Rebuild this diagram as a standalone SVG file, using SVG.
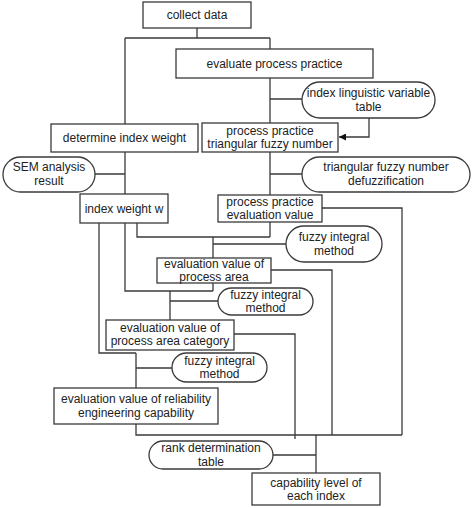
<svg xmlns="http://www.w3.org/2000/svg" width="474" height="508" viewBox="0 0 474 508">
<style>
.b{fill:#fff;stroke:#3a3a3a;stroke-width:1.3}
.t{font-family:"Liberation Sans",Arial,sans-serif;font-size:12px;fill:#222;text-anchor:middle;dominant-baseline:central}
.c{fill:none;stroke:#3a3a3a;stroke-width:1.3}
</style>
<defs>
<marker id="ar" viewBox="0 0 10 10" refX="10" refY="5" markerWidth="7" markerHeight="7" markerUnits="userSpaceOnUse" orient="auto">
<path d="M0,0 L10,5 L0,10 z" fill="#111"/>
</marker>
</defs>
<rect width="474" height="508" fill="#fff"/>
<g id="connectors">
<path class="c" d="M197 28 V38 M125 38 H270 M125 38 V124 M270 38 V49"/>
<path class="c" d="M270 78 V123 M270 99 H302"/>
<path class="c" d="M369 118 V137 H339" marker-end="url(#ar)"/>
<path class="c" d="M125 152 V194 M95 174 H125"/>
<path class="c" d="M270 152 V195 M270 174 H302"/>
<path class="c" d="M322 208 H402 V435"/>
<path class="c" d="M137 223 V237 H270 M270 222 V237 M213 237 V258 M213 244 H286"/>
<path class="c" d="M271 270 H332 V435"/>
<path class="c" d="M125 223 V291 H213 M213 283 V291 M170 291 V320 M170 301 H218"/>
<path class="c" d="M99 223 V353 H136 M136 353 V388 M136 368 H172"/>
<path class="c" d="M234 334 H295 V439"/>
<path class="c" d="M136 424 V435 H402"/>
<path class="c" d="M316 435 V473 M273 455 H316"/>
</g>
<g id="collect"><rect class="b" x="143" y="2" width="108" height="26"/><text class="t" x="197" y="15">collect data</text></g>
<g id="evaluate"><rect class="b" x="176" y="49" width="197" height="29"/><text class="t" x="274.5" y="63.5">evaluate process practice</text></g>
<g id="linguistic"><rect class="b" x="302" y="82" width="133" height="36" rx="18"/><text class="t" x="368.5" y="93">index linguistic variable</text><text class="t" x="368.5" y="106.5">table</text></g>
<g id="pptfn"><rect class="b" x="202" y="123" width="136" height="29"/><text class="t" x="270" y="130.8">process practice</text><text class="t" x="270" y="144.2">triangular fuzzy number</text></g>
<g id="weight"><rect class="b" x="51" y="124" width="147" height="28"/><text class="t" x="124.5" y="138">determine index weight</text></g>
<g id="sem"><rect class="b" x="3" y="157" width="92" height="35" rx="17.5"/><text class="t" x="49" y="167.3">SEM analysis</text><text class="t" x="49" y="180.7">result</text></g>
<g id="defuzz"><rect class="b" x="302" y="157" width="168" height="35" rx="17.5"/><text class="t" x="386" y="167.3">triangular fuzzy number</text><text class="t" x="386" y="180.7">defuzzification</text></g>
<g id="weightw"><rect class="b" x="80" y="194" width="88" height="29"/><text class="t" x="124" y="208.5">index weight w</text></g>
<g id="ppeval"><rect class="b" x="218" y="195" width="104" height="27"/><text class="t" x="270" y="201.8">process practice</text><text class="t" x="270" y="215.2">evaluation value</text></g>
<g id="fuzzy1"><rect class="b" x="286" y="226" width="96" height="36" rx="18"/><text class="t" x="334" y="237.3">fuzzy integral</text><text class="t" x="334" y="250.7">method</text></g>
<g id="area"><rect class="b" x="157" y="258" width="114" height="25"/><text class="t" x="214" y="263.8">evaluation value of</text><text class="t" x="214" y="277.2">process area</text></g>
<g id="fuzzy2"><rect class="b" x="218" y="288" width="95" height="27" rx="13.5"/><text class="t" x="265.5" y="294.8">fuzzy integral</text><text class="t" x="265.5" y="308.2">method</text></g>
<g id="category"><rect class="b" x="106" y="320" width="128" height="30"/><text class="t" x="170" y="327.8">evaluation value of</text><text class="t" x="170" y="341.2">process area category</text></g>
<g id="fuzzy3"><rect class="b" x="172" y="353" width="95" height="29" rx="14.5"/><text class="t" x="219.5" y="360.8">fuzzy integral</text><text class="t" x="219.5" y="374.2">method</text></g>
<g id="reliability"><rect class="b" x="54" y="388" width="164" height="36"/><text class="t" x="136" y="399.3">evaluation value of reliability</text><text class="t" x="136" y="412.7">engineering capability</text></g>
<g id="rank"><rect class="b" x="149" y="441" width="124" height="28" rx="14"/><text class="t" x="211" y="448.3">rank determination</text><text class="t" x="211" y="461.7">table</text></g>
<g id="capability"><rect class="b" x="252" y="473" width="128" height="32"/><text class="t" x="316" y="482.8">capability level of</text><text class="t" x="316" y="496.2">each index</text></g>
</svg>
